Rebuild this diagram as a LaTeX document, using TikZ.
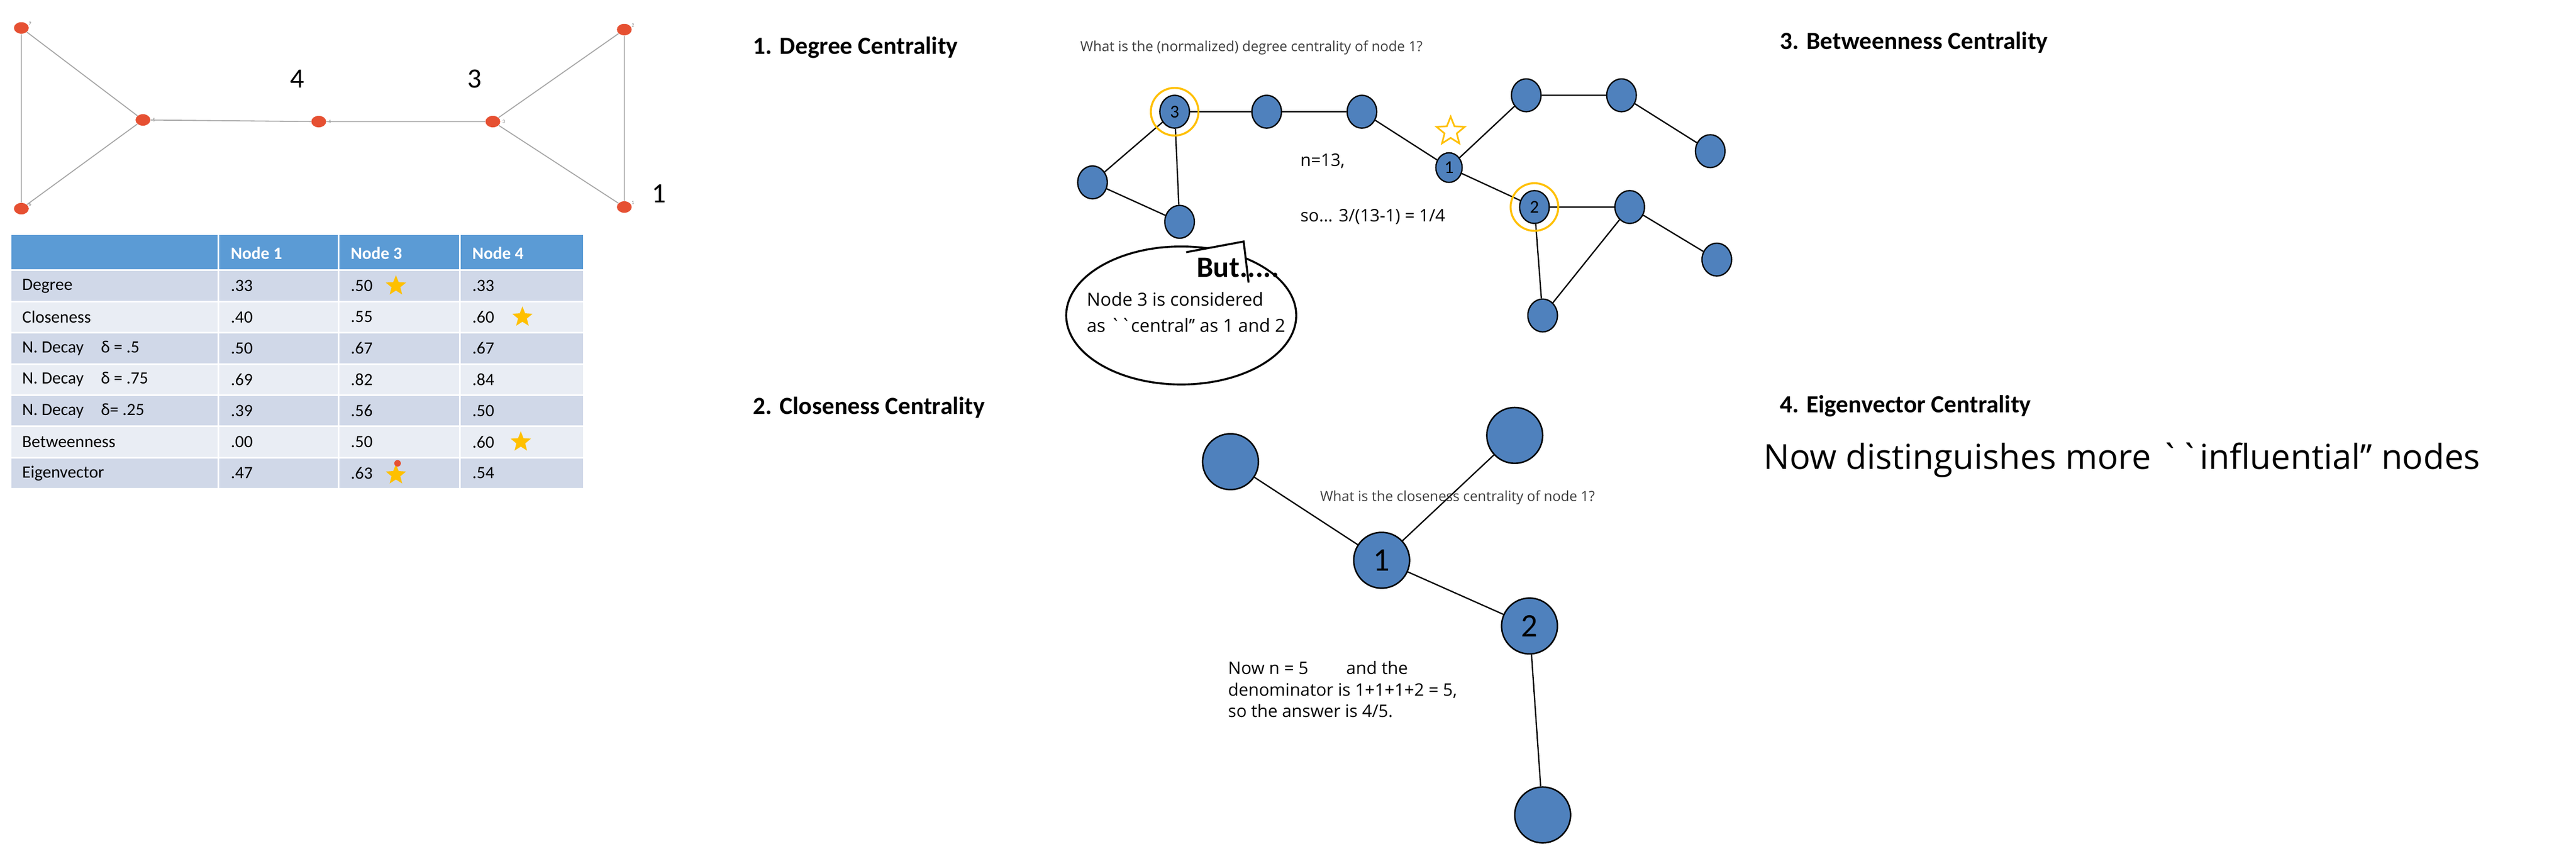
\documentclass[tikz,border=0pt]{standalone}
\usepackage{fontspec}
\setmainfont{Carlito}
\newfontfamily\osans{Open Sans}
\usetikzlibrary{shapes.geometric}
\definecolor{hdr}{RGB}{91,155,213}
\definecolor{rowA}{RGB}{208,216,232}
\definecolor{rowB}{RGB}{233,237,244}
\definecolor{nblue}{RGB}{79,129,189}
\definecolor{gold}{RGB}{255,192,0}
\definecolor{nred}{RGB}{230,80,50}
\tikzset{
 rnode/.style={ellipse,fill=nred,minimum width=9pt,minimum height=7pt,inner sep=0pt},
 redge/.style={draw=gray!70,line width=0.6pt},
 bnode/.style={ellipse,draw=black,fill=nblue,line width=0.8pt,minimum width=18pt,minimum height=20pt,inner sep=0pt,font=\fontsize{11}{11}\selectfont},
 cnode/.style={circle,draw=black,fill=nblue,line width=0.9pt,minimum size=34pt,inner sep=0pt,font=\fontsize{20}{20}\selectfont},
 bedge/.style={draw=black,line width=0.8pt},
 ring/.style={circle,draw=gold,line width=1.2pt,minimum size=29pt},
 ttl/.style={anchor=west,font=\fontsize{15}{15}\selectfont\bfseries},
 small/.style={anchor=west,font=\osans\fontsize{8.5}{8.5}\selectfont,text=black!75},
 body/.style={anchor=west,font=\osans\fontsize{10.5}{13}\selectfont},
 cell/.style={anchor=west,font=\fontsize{10.5}{10.5}\selectfont},
 tiny/.style={anchor=west,font=\fontsize{3}{3}\selectfont,text=gray,inner sep=1pt}
}
\newcommand{\tstar}[2]{\node[star,star points=5,star point ratio=2.3,fill=gold,minimum size=13pt,inner sep=0pt] at (#1,#2) {};}
\begin{document}
\begin{tikzpicture}[x=1pt,y=-1pt]
\useasboundingbox (0,0) rectangle (1568,527);
\fill[white] (0,0) rectangle (1568,527);
% left graph
\node[rnode] (l7) at (13,17) {}; \node[tiny] at (l7.north east) {7};
\node[rnode] (l2) at (380,18) {}; \node[tiny] at (l2.north east) {2};
\node[rnode] (l5) at (87,73) {}; \node[tiny] at (l5.east) {5};
\node[rnode] (l4) at (194,74) {}; \node[tiny] at (l4.east) {4};
\node[rnode] (l3) at (300,74) {}; \node[tiny] at (l3.east) {3};
\node[rnode] (l6) at (13,127) {}; \node[tiny] at (l6.north east) {6};
\node[rnode] (l1) at (380,126) {}; \node[tiny] at (l1.north east) {1};
\draw[redge] (l7)--(l6) (l7)--(l5) (l6)--(l5) (l5)--(l4) (l4)--(l3) (l3)--(l2) (l3)--(l1) (l2)--(l1);
\node[font=\fontsize{17}{17}\selectfont] (t4) at (181,48) {4};
\node[font=\fontsize{17}{17}\selectfont] (t3) at (289,48) {3};
\node[font=\fontsize{17}{17}\selectfont] (t1) at (401,118) {1};
% table
\fill[hdr] (7,143) rectangle (355,164);
\foreach \i/\c in {0/rowA,1/rowB,2/rowA,3/rowB,4/rowA,5/rowB,6/rowA}{
 \fill[\c] (7,{165+\i*19}) rectangle (355,{183+\i*19});}
\foreach \x in {133,206,280}{\draw[white,line width=1pt] (\x,143)--(\x,298);}
\foreach \x/\t in {137/Node 1,210/Node 3,284/Node 4}{\node[cell,text=white,font=\fontsize{10.5}{10.5}\selectfont\bfseries] at (\x,154) {\t};}
\foreach \i/\a/\b/\c/\d in {0/Degree/.33/.50/.33,1/Closeness/.40/.55/.60,2/{N. Decay\quad δ = .5}/.50/.67/.67,3/{N. Decay\quad δ = .75}/.69/.82/.84,4/{N. Decay\quad δ= .25}/.39/.56/.50,5/Betweenness/.00/.50/.60,6/Eigenvector/.47/.63/.54}{
 \node[cell] at (10,{174+\i*19}) {\a};
 \node[cell] at (137,{174+\i*19}) {\b};
 \node[cell] at (210,{174+\i*19}) {\c};
 \node[cell] at (284,{174+\i*19}) {\d};}
\tstar{241}{174}\tstar{318}{193}\tstar{317}{269}\tstar{241}{289}
\fill[nred] (242,282) circle (2pt);
% degree section
\node[ttl] (h1) at (455,29) {1. Degree Centrality};
\node[small] (q1) at (654,29) {What is the (normalized) degree centrality of node 1?};
\node[bnode] (d3) at (715,68) {3};
\node[bnode] (da) at (771,68) {};
\node[bnode] (db) at (829,68) {};
\node[bnode,minimum width=16pt,minimum height=18pt] (d1) at (882,102) {1};
\node[bnode] (dc) at (929,58) {};
\node[bnode] (dd) at (987,58) {};
\node[bnode] (de) at (1041,92) {};
\node[bnode] (d2) at (934,126) {2};
\node[bnode] (df) at (992,126) {};
\node[bnode] (dg) at (1045,158) {};
\node[bnode] (dh) at (939,192) {};
\node[bnode] (di) at (665,111) {};
\node[bnode] (dj) at (718,135) {};
\draw[bedge] (d3)--(da) (da)--(db) (db)--(d1) (d1)--(dc) (dc)--(dd) (dd)--(de) (d1)--(d2) (d2)--(df) (df)--(dg) (df)--(dh) (d2)--(dh) (d3)--(di) (di)--(dj) (d3)--(dj);
\node[ring] (r3) at (d3) {};
\node[ring] (r2) at (d2) {};
\node[star,star points=5,star point ratio=2.3,draw=gold,line width=1pt,minimum size=18pt,inner sep=0pt] (st) at (883,80) {};
\node[body] (n13) at (788,98) {n=13,};
\node[body] (so) at (788,132) {so... 3/(13-1) = 1/4};
% speech bubble
\draw[black,line width=1.2pt,fill=white] (719,192) ellipse [x radius=70, y radius=42];
\fill[white] (722,153) -- (757,147) -- (760,172) -- (735,160) -- cycle;
\draw[black,line width=1.2pt] (722,153.5) -- (757,147) -- (760,172);
\node[anchor=west,font=\fontsize{18}{18}\selectfont\bfseries] (but) at (725,163) {But.....};
\node[body,font=\osans\fontsize{11}{16}\selectfont,align=left] (ncs) at (658,190) {Node 3 is considered\\ as ``central’’ as 1 and 2};
% closeness section
\node[ttl] (h2) at (455,248) {2. Closeness Centrality};
\node[cnode] (c0) at (749,281) {};
\node[cnode] (ca) at (922,265) {};
\node[cnode] (c1) at (841,341) {1};
\node[cnode] (c2) at (931,381) {2};
\node[cnode] (cb) at (939,496) {};
\draw[bedge] (c0)--(c1) (ca)--(c1) (c1)--(c2) (c2)--(cb);
\node[small] (q2) at (800,303) {What is the closeness centrality of node 1?};
\node[body,align=left,anchor=north west] (ans) at (744,399) {Now n = 5\hspace{2.2em}and the\\denominator is 1+1+1+2 = 5,\\so the answer is 4/5.};
% right
\node[ttl] (h3) at (1080,26) {3. Betweenness Centrality};
\node[ttl] (h4) at (1080,247) {4. Eigenvector Centrality};
\node[anchor=west,font=\osans\fontsize{21}{21}\selectfont] (inf) at (1070,280) {Now distinguishes more ``influential’’ nodes};
\end{tikzpicture}
\end{document}
